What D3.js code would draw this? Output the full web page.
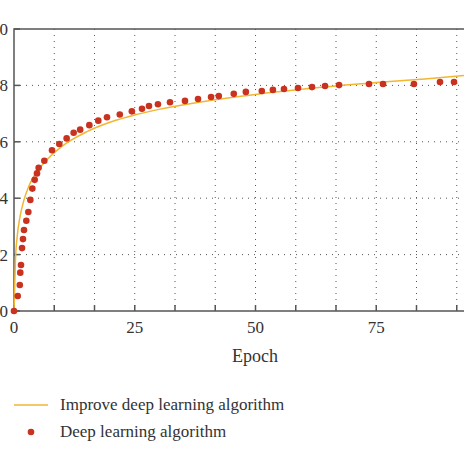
<!DOCTYPE html><html><head><script src="https://cdn.jsdelivr.net/npm/d3@7"></script>
<style>body{margin:0;background:#fff}</style></head><body><svg id="c" width="464" height="464"></svg>
<script>
const dotEpochs=[0,0.77,1.2,1.3,1.45,1.66,1.86,2.07,2.55,2.97,3.38,3.8,4.28,4.76,5.1,6.28,7.87,9.38,10.9,12.35,13.7,15.6,17.45,19.25,21.9,24.4,26.5,27.95,29.8,32.3,35.4,38.1,40.8,42.4,45.5,48,51.3,53.6,55.9,58.8,61.7,64.4,67.3,73.5,76.4,82.8,88.2,91.1];
const dotValues=[0,0.053,0.092,0.136,0.163,0.223,0.255,0.287,0.32,0.351,0.394,0.434,0.465,0.488,0.508,0.533,0.57,0.592,0.612,0.632,0.643,0.659,0.675,0.687,0.697,0.708,0.717,0.727,0.733,0.74,0.745,0.752,0.759,0.762,0.77,0.777,0.78,0.784,0.787,0.791,0.794,0.798,0.801,0.805,0.805,0.805,0.812,0.812];
const lineEpochs=[0,0.3,0.7,1.2,2,3,4,5,7,10,15,20,25,30,40,50,60,75,85,95];
const lineValues=[0,0.18,0.27,0.33,0.39,0.44,0.475,0.5,0.54,0.585,0.635,0.67,0.695,0.715,0.745,0.768,0.787,0.81,0.823,0.838];
const yTicks=[0,0.2,0.4,0.6,0.8,1.0];
const xLabelTicks=[0,25,50,75];
const legendLabels=["Improve deep learning algorithm","Deep learning algorithm"];
const svg=d3.select("#c");
const x=d3.scaleLinear().domain([0,100]).range([14,497]);
const y=d3.scaleLinear().domain([0,1]).range([311,29]);
const gridX=d3.range(0,100.01,25/3);
const g=svg.append("g");
g.selectAll(".gx").data(gridX.slice(1)).enter().append("line").attr("x1",d=>x(d)).attr("x2",d=>x(d)).attr("y1",29).attr("y2",311).attr("stroke","#555").attr("stroke-width",1).attr("stroke-dasharray","1,5");
g.selectAll(".gy").data(yTicks.slice(1,5)).enter().append("line").attr("y1",d=>y(d)).attr("y2",d=>y(d)).attr("x1",14).attr("x2",464).attr("stroke","#555").attr("stroke-width",1).attr("stroke-dasharray","1,5");
g.append("rect").attr("x",14).attr("y",29).attr("width",483).attr("height",282).attr("fill","none").attr("stroke","#555").attr("stroke-width",1.5);
g.selectAll(".tx").data(gridX).enter().append("line").attr("x1",d=>x(d)).attr("x2",d=>x(d)).attr("y1",311).attr("y2",305).attr("stroke","#555").attr("stroke-width",1.5);
g.selectAll(".ty").data(yTicks).enter().append("line").attr("x1",14).attr("x2",20).attr("y1",d=>y(d)).attr("y2",d=>y(d)).attr("stroke","#555").attr("stroke-width",1.5);
const font="Liberation Serif, serif";
g.selectAll(".xl").data(xLabelTicks).enter().append("text").attr("x",d=>x(d)).attr("y",333).attr("text-anchor","middle").attr("font-family",font).attr("font-size",17).attr("fill","#333").text(d=>d);
g.selectAll(".yl").data(yTicks).enter().append("text").attr("x",8).attr("y",d=>y(d)+6).attr("text-anchor","end").attr("font-family",font).attr("font-size",17).attr("fill","#333").text(d=>d.toFixed(1));
g.append("text").attr("x",255).attr("y",362).attr("text-anchor","middle").attr("font-family",font).attr("font-size",18).attr("fill","#333").text("Epoch");
const line=d3.line().x(d=>x(d[0])).y(d=>y(d[1])).curve(d3.curveMonotoneX);
g.append("path").datum(lineEpochs.map((e,i)=>[e,lineValues[i]])).attr("d",line).attr("fill","none").attr("stroke","#f2b632").attr("stroke-width",1.5);
g.selectAll(".dot").data(dotEpochs.map((e,i)=>[e,dotValues[i]])).enter().append("circle").attr("cx",d=>x(d[0])).attr("cy",d=>y(d[1])).attr("r",3.3).attr("fill","#c8321e");
g.append("line").attr("x1",14).attr("x2",48).attr("y1",405).attr("y2",405).attr("stroke","#f2b632").attr("stroke-width",1.5);
g.append("circle").attr("cx",31).attr("cy",432).attr("r",3.3).attr("fill","#c8321e");
g.selectAll(".lg").data(legendLabels).enter().append("text").attr("x",60).attr("y",(d,i)=>410+i*27).attr("font-family",font).attr("font-size",17).attr("fill","#333").text(d=>d);
</script></body></html>
